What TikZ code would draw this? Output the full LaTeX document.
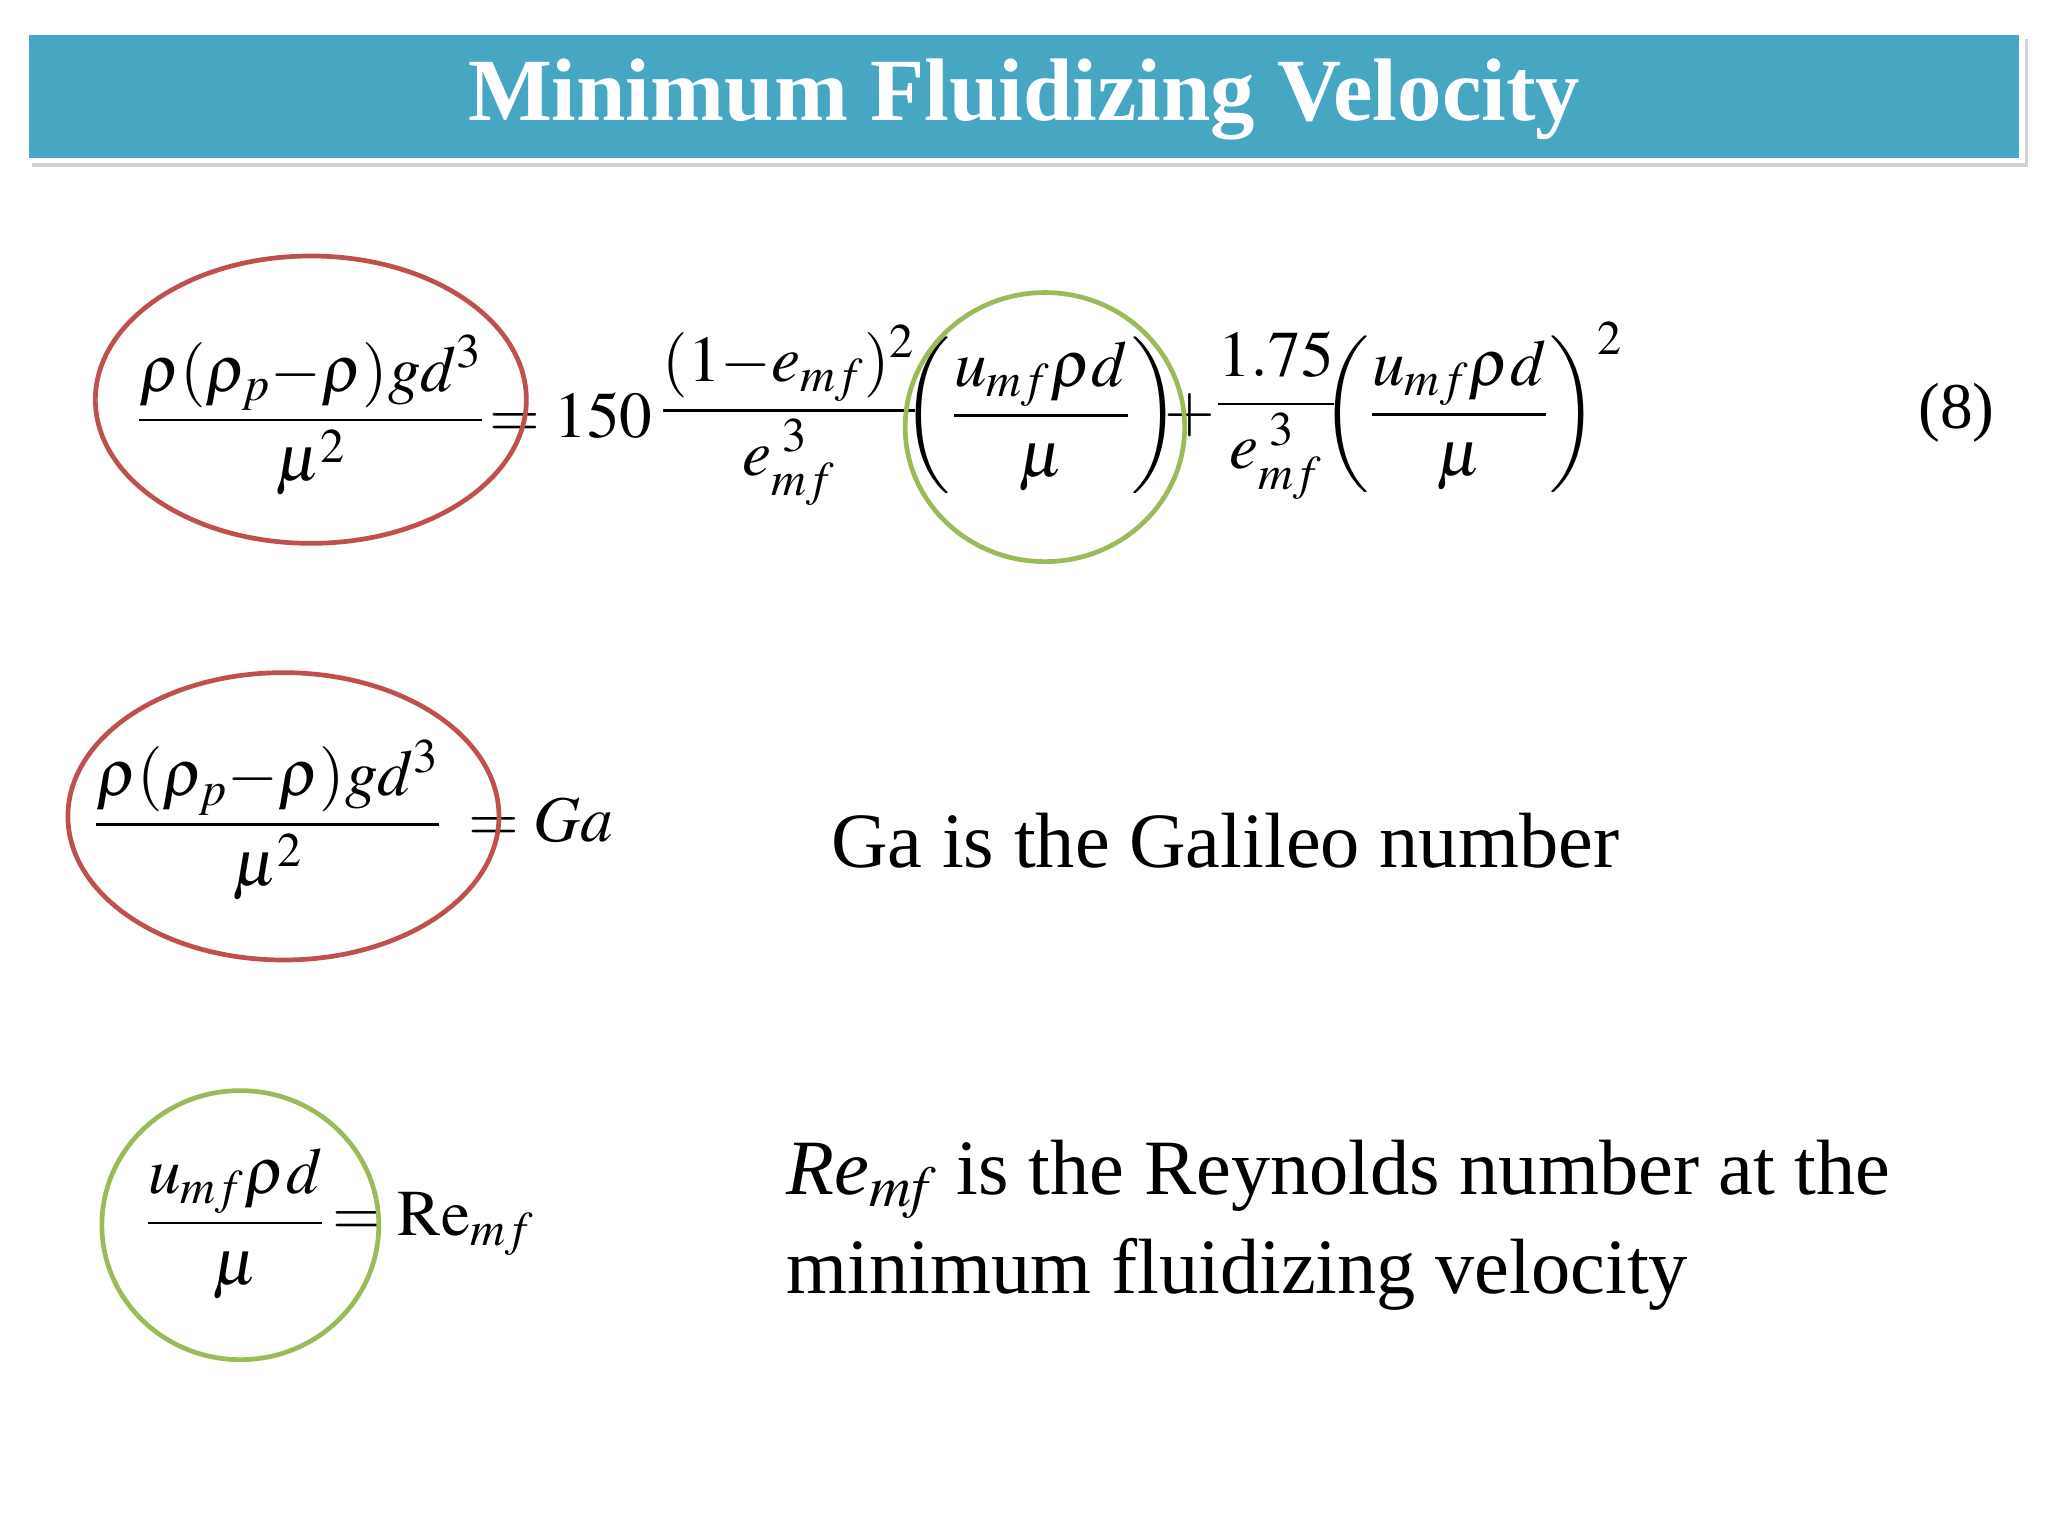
\documentclass[tikz,border=0pt]{standalone}
\usepackage{mathptmx}
\usepackage[no-math]{fontspec}
\setmainfont{Liberation Serif}
\usetikzlibrary{shadows}
\definecolor{bar}{HTML}{47A6C2}
\definecolor{redc}{HTML}{C0504D}
\definecolor{grnc}{HTML}{9BBB59}
\begin{document}
\begin{tikzpicture}[x=0.5pt,y=-0.5pt,
  eq/.style={inner sep=0pt,font=\fontsize{25}{30}\selectfont},
  txt/.style={inner sep=0pt,font=\fontsize{30}{38}\selectfont,anchor=west,align=left},
  ring/.style={line width=1.8pt}]
\useasboundingbox (0,0) rectangle (1568,1176);
\fill[white] (0,0) rectangle (1568,1176);
\node[draw=white,line width=2pt,fill=bar,minimum width=764pt,minimum height=49pt,drop shadow={opacity=0.35}] (title) at (784,74) {};
\node[text=white,font=\fontsize{34}{40}\selectfont\bfseries] at (784,76) {Minimum Fluidizing Velocity};
% equation 1
\node[eq] (f1) at (238,318) {$\displaystyle \frac{\rho(\rho_p{-}\rho)gd^3}{\mu^2}$};
\node[eq,anchor=east] (e150) at (500,318) {$=150$};
\node[eq] (f2) at (604,318) {$\displaystyle \frac{(1{-}e_{mf})^2}{e_{mf}^{\;3}}$};
\node[eq] (p1) at (797,318) {$\displaystyle \left(\frac{u_{mf}\rho d}{\mu}\right)$};
\node[eq] (plus) at (911,318) {$+$};
\node[eq] (f3) at (977,318) {$\displaystyle \frac{1.75}{e_{mf}^{\;3}}$};
\node[eq] (p2) at (1127,312) {$\displaystyle \left(\frac{u_{mf}\rho d}{\mu}\right)^{2}$};
\node[eq] (n8) at (1498,316) {(8)};
\draw[ring,redc] (238,306) ellipse (165 and 110);
\draw[ring,grnc] (800,327) ellipse (107 and 103);
% equation 2
\node[eq] (g1) at (205,628) {$\displaystyle \frac{\rho(\rho_p{-}\rho)gd^3}{\mu^2}$};
\node[eq,anchor=west] (g2) at (358,628) {$=Ga$};
\draw[ring,redc] (217,625) ellipse (165 and 110);
\node[txt] (t2) at (636,644) {Ga is the Galileo number};
% equation 3
\node[eq] (r1) at (180,937) {$\displaystyle \frac{u_{mf}\rho d}{\mu}$};
\node[eq,anchor=west] (r2) at (254,937) {$=\mathrm{Re}_{mf}$};
\draw[ring,grnc] (184,938) ellipse (106 and 103);
\node[txt] (t3) at (602,938) {\textit{Re}$_{\mathit{mf}}$ is the Reynolds number at the\\minimum fluidizing velocity};
\end{tikzpicture}
\end{document}
